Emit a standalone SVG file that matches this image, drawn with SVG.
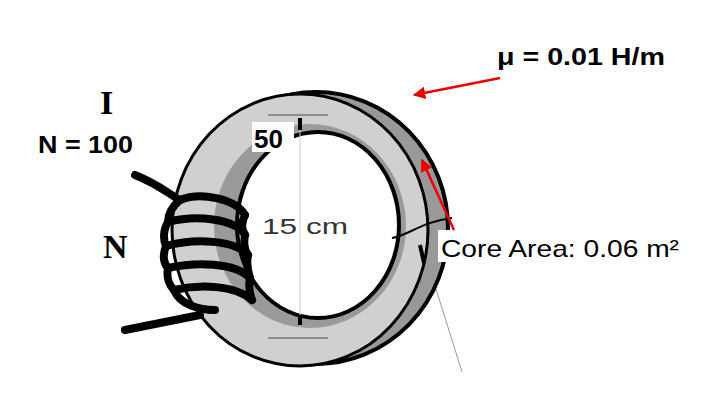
<svg xmlns="http://www.w3.org/2000/svg" width="708" height="420" viewBox="0 0 708 420">
<style>
.l{font-family:"Liberation Sans",Arial,sans-serif;font-size:24px;font-weight:bold;fill:#000}
.s{font-family:"Liberation Serif",serif;font-weight:bold;font-size:34px}
.k{stroke:#000;fill:none}
.w{stroke:#000;fill:none;stroke-width:8;stroke-linecap:round}
</style>
<defs><marker id="a" viewBox="0 0 10 10" refX="9" refY="5" markerWidth="5" markerHeight="5" orient="auto"><path d="M0,0L10,5L0,10z" fill="#e00"/></marker></defs>
<rect width="708" height="420" fill="#fff"/>
<g id="toroid">
<line x1="430" y1="270" x2="462" y2="372" stroke="#999" stroke-width="1"/>
<ellipse cx="316" cy="228" rx="132" ry="136" fill="#999" stroke="#000" stroke-width="4"/>
<ellipse cx="300" cy="230" rx="128" ry="136" fill="#d0d0d0" stroke="#000" stroke-width="3"/>
<ellipse cx="310" cy="226" rx="96" ry="102" fill="#9a9a9a"/>
<ellipse cx="318" cy="225" rx="81" ry="93" fill="#fff" stroke="#000" stroke-width="4"/>
<line x1="300" y1="115" x2="300" y2="335" stroke="#ccc" stroke-width="1"/>
<line x1="268" y1="115" x2="328" y2="115" stroke="#777" stroke-width="1.5"/>
<line x1="268" y1="338" x2="328" y2="338" stroke="#777" stroke-width="1.5"/>
<path d="M300 118v12M300 315v10" class="k" stroke-width="4"/>
<path d="M392 238 C410 235 420 222 452 218" stroke="#000" stroke-width="2" fill="none"/>
<path d="M420 245l4 18" stroke="#000" stroke-width="4"/>
</g>
<g id="coil">
<path d="M135 175 C160 185 170 195 180 200" class="w"/>
<path d="M125 330 L200 315" class="w"/>
<path d="M180 200 C200 192 235 198 245 215 M168 222 C195 215 235 218 245 235 M166 246 C195 238 235 240 248 255 M168 268 C195 262 235 262 250 278 M174 290 C200 284 235 285 252 300" class="w"/>
<path d="M180 200 C168 210 168 220 168 222 M168 222 C162 232 164 242 166 246 M166 246 C162 256 164 264 168 268 M168 268 C166 278 170 286 174 290 M174 290 C180 305 200 310 215 310" class="w"/>
<path d="M245 215 C240 225 243 232 245 235 M245 235 C243 245 246 252 248 255 M248 255 C246 265 248 272 250 278 M250 278 C248 288 250 295 252 300" class="w"/>
</g>
<g id="labels">
<text x="100" y="114" class="s">I</text>
<text x="103" y="258" class="s">N</text>
<rect x="33" y="128" width="110" height="32" fill="#fff"/>
<text x="38" y="153" class="l" textLength="95" lengthAdjust="spacingAndGlyphs">N = 100</text>
<rect x="252" y="122" width="42" height="30" fill="#fff"/>
<text x="254" y="148" class="l" font-size="26" style="font-size:26px">50</text>
<text x="262" y="234" font-family="Liberation Sans,Arial,sans-serif" font-size="22" fill="#333" textLength="86" lengthAdjust="spacingAndGlyphs">15  cm</text>
<text x="497" y="65" class="l" textLength="168" lengthAdjust="spacingAndGlyphs">μ = 0.01 H/m</text>
<line x1="500" y1="78" x2="414" y2="95" stroke="#e00" stroke-width="2.5" marker-end="url(#a)"/>
<rect x="438" y="230" width="250" height="32" fill="#fff"/>
<text x="441" y="257" font-family="Liberation Sans,Arial,sans-serif" font-size="24" fill="#000" textLength="238" lengthAdjust="spacingAndGlyphs">Core Area: 0.06 m²</text>
<line x1="454" y1="230" x2="422" y2="160" stroke="#e00" stroke-width="2.5" marker-end="url(#a)"/>
</g>
</svg>
